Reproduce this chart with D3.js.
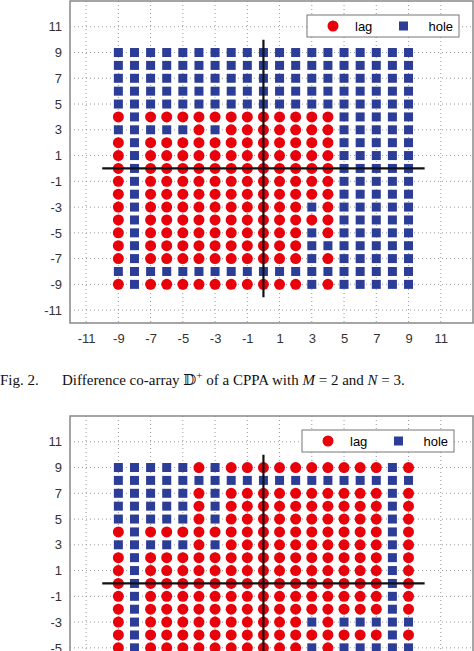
<!DOCTYPE html>
<html>
<head>
<meta charset="utf-8">
<script src="https://cdn.jsdelivr.net/npm/d3@7"></script>
<style>
body { margin: 0; background: #fff; }
svg text { font-family: "Liberation Sans", Arial, sans-serif; }
svg text.caption, svg text.caption tspan { font-family: "Liberation Serif", "DejaVu Serif", serif; }
</style>
</head>
<body>
<svg id="chart" width="474" height="651"></svg>
<script>
// x and y lags, one char per x = -9..9, R = lag, B = hole
var lagsX = d3.range(-9, 10)
var lagsY = [9, 8, 7, 6, 5, 4, 3, 2, 1, 0, -1, -2, -3, -4, -5, -6, -7, -8, -9]
var tickValues = [-11, -9, -7, -5, -3, -1, 1, 3, 5, 7, 9, 11]

var topRows = [
  "BBBBBBBBBBBBBBBBBBB",
  "BBBBBBBBBBBBBBBBBBB",
  "BBBBBBBBBBBBBBBBBBB",
  "BBBBBBBBBBBBBBBBBBB",
  "BBBBBBBBBBBBBBBBBBB",
  "RBRRRRRRRRRRRRBBBBB",
  "BBBBBRBRRRRRRRBBBBB",
  "RBRRRRRRRRRRRRBBBBB",
  "RBRRRRRRRRRRRRBBBBB",
  "RBRRRRRRRRRRRRBBBBB",
  "RBRRRRRRRRRRRRBBBBB",
  "RBRRRRRRRRRRRRBBBBB",
  "RBRRRRRRRRRRBRBBBBB",
  "RBRRRRRRRRRRRRBBBBB",
  "RBRRRRRRRRRRBRBBBBB",
  "RBRRRRRRRRRRBBBBBBB",
  "RBRRRRRRRRRRBRBBBBB",
  "BBBBBBBBBBBBBBBBBBB",
  "RBRRRRRRRRRRBRBBBBB"
]

var bottomRows = [
  "BBBBBRBRRRRRRRRRRBR",
  "BBBBBBBBBBBBBBBBBBB",
  "BBBBBRBRRRRRRRRRRBR",
  "BBBBBRBRRRRRRRRRRBR",
  "BBBBBRBRRRRRRRRRRBR",
  "RBRRRRRRRRRRRRRRRBR",
  "BBBBBRBRRRRRRRRRRBR",
  "RBRRRRRRRRRRRRRRRBR",
  "RBRRRRRRRRRRRRRRRBR",
  "RBRRRRRRRRRRRRRRRBR",
  "RBRRRRRRRRRRRRRRRBR",
  "RBRRRRRRRRRRRRRRRBR",
  "RBRRRRRRRRRRBRBBBBB",
  "RBRRRRRRRRRRRRRRRBR",
  "RBRRRRRRRRRRBRBBBBB",
  "RBRRRRRRRRRRBBBBBBB",
  "RBRRRRRRRRRRBRBBBBB",
  "BBBBBBBBBBBBBBBBBBB",
  "RBRRRRRRRRRRBRBBBBB"
]

var red = "#e8000b"
var blue = "#2b3d96"
var svg = d3.select("#chart")

var drawPanel = function(rows, top, legendX, legendY, showX)
{
  var x = d3.scaleLinear().domain([-12, 13]).range([70, 473])
  var y = d3.scaleLinear().domain([13, -12]).range([top, top + 322])
  var g = svg.append("g")

  // dotted grid
  g.selectAll(".gx").data(tickValues).join("line")
    .attr("x1", d => x(d)).attr("x2", d => x(d))
    .attr("y1", y(13)).attr("y2", y(-12))
    .attr("stroke", "#999").attr("stroke-dasharray", "1,3")
  g.selectAll(".gy").data(tickValues).join("line")
    .attr("y1", d => y(d)).attr("y2", d => y(d))
    .attr("x1", x(-12)).attr("x2", x(13))
    .attr("stroke", "#999").attr("stroke-dasharray", "1,3")

  g.append("rect")
    .attr("x", x(-12)).attr("y", y(13))
    .attr("width", x(13) - x(-12)).attr("height", y(-12) - y(13))
    .attr("fill", "none").attr("stroke", "#888").attr("stroke-width", 1.5)

  var fmt = d => String(d)
  var axes = []
  if (showX) {
    axes.push(g.append("g").attr("transform", "translate(0," + y(-12) + ")")
      .call(d3.axisBottom(x).tickValues(tickValues).tickFormat(fmt).tickSize(0).tickPadding(11)))
  }
  axes.push(g.append("g").attr("transform", "translate(" + x(-12) + ",0)")
    .call(d3.axisLeft(y).tickValues(tickValues).tickFormat(fmt).tickSize(0).tickPadding(8)))
  axes.forEach(function(a) {
    a.select(".domain").remove()
    a.selectAll("text").attr("font-size", 13).attr("fill", "#333")
  })

  var cells = []
  rows.forEach(function(row, i) {
    lagsX.forEach(function(lx, j) {
      cells.push({x: lx, y: lagsY[i], lag: row[j] == "R"})
    })
  })

  g.selectAll("rect.hole").data(cells.filter(d => !d.lag)).join("rect")
    .attr("class", "hole")
    .attr("x", d => x(d.x) - 4.5).attr("y", d => y(d.y) - 4.5)
    .attr("width", 9).attr("height", 9).attr("fill", blue)
  g.selectAll("circle.lag").data(cells.filter(d => d.lag)).join("circle")
    .attr("class", "lag")
    .attr("cx", d => x(d.x)).attr("cy", d => y(d.y))
    .attr("r", 5.5).attr("fill", red)

  // axes crosshair
  g.append("line").attr("x1", x(-10)).attr("x2", x(10))
    .attr("y1", y(0)).attr("y2", y(0)).attr("stroke", "#111").attr("stroke-width", 2.2)
  g.append("line").attr("x1", x(0)).attr("x2", x(0))
    .attr("y1", y(10)).attr("y2", y(-10)).attr("stroke", "#111").attr("stroke-width", 2.2)

  // legend
  var lg = g.append("g").attr("transform", "translate(" + legendX + "," + legendY + ")")
  lg.append("rect").attr("width", 152).attr("height", 22)
    .attr("fill", "#fff").attr("stroke", "#777")
  lg.append("circle").attr("cx", 26).attr("cy", 11).attr("r", 5.5).attr("fill", red)
  lg.append("text").attr("x", 48).attr("y", 16).attr("font-size", 13).text("lag")
  lg.append("rect").attr("x", 92).attr("y", 6.5).attr("width", 9).attr("height", 9).attr("fill", blue)
  lg.append("text").attr("x", 146).attr("y", 16).attr("font-size", 13)
    .attr("text-anchor", "end").text("hole")
}

drawPanel(topRows, 1, 307, 15, true)
drawPanel(bottomRows, 416, 302, 430, false)

var cap = svg.append("text").attr("class", "caption").attr("y", 385)
  .attr("font-size", 15).attr("fill", "#111")
cap.append("tspan").attr("x", 0).text("Fig. 2.")
cap.append("tspan").attr("x", 62).text("Difference co-array 𝔻")
cap.append("tspan").attr("dy", -6).attr("font-size", 11).text("+")
cap.append("tspan").attr("dy", 6).text(" of a CPPA with ")
cap.append("tspan").attr("font-style", "italic").text("M")
cap.append("tspan").text(" = 2 and ")
cap.append("tspan").attr("font-style", "italic").text("N")
cap.append("tspan").text(" = 3.")
</script>
</body>
</html>
